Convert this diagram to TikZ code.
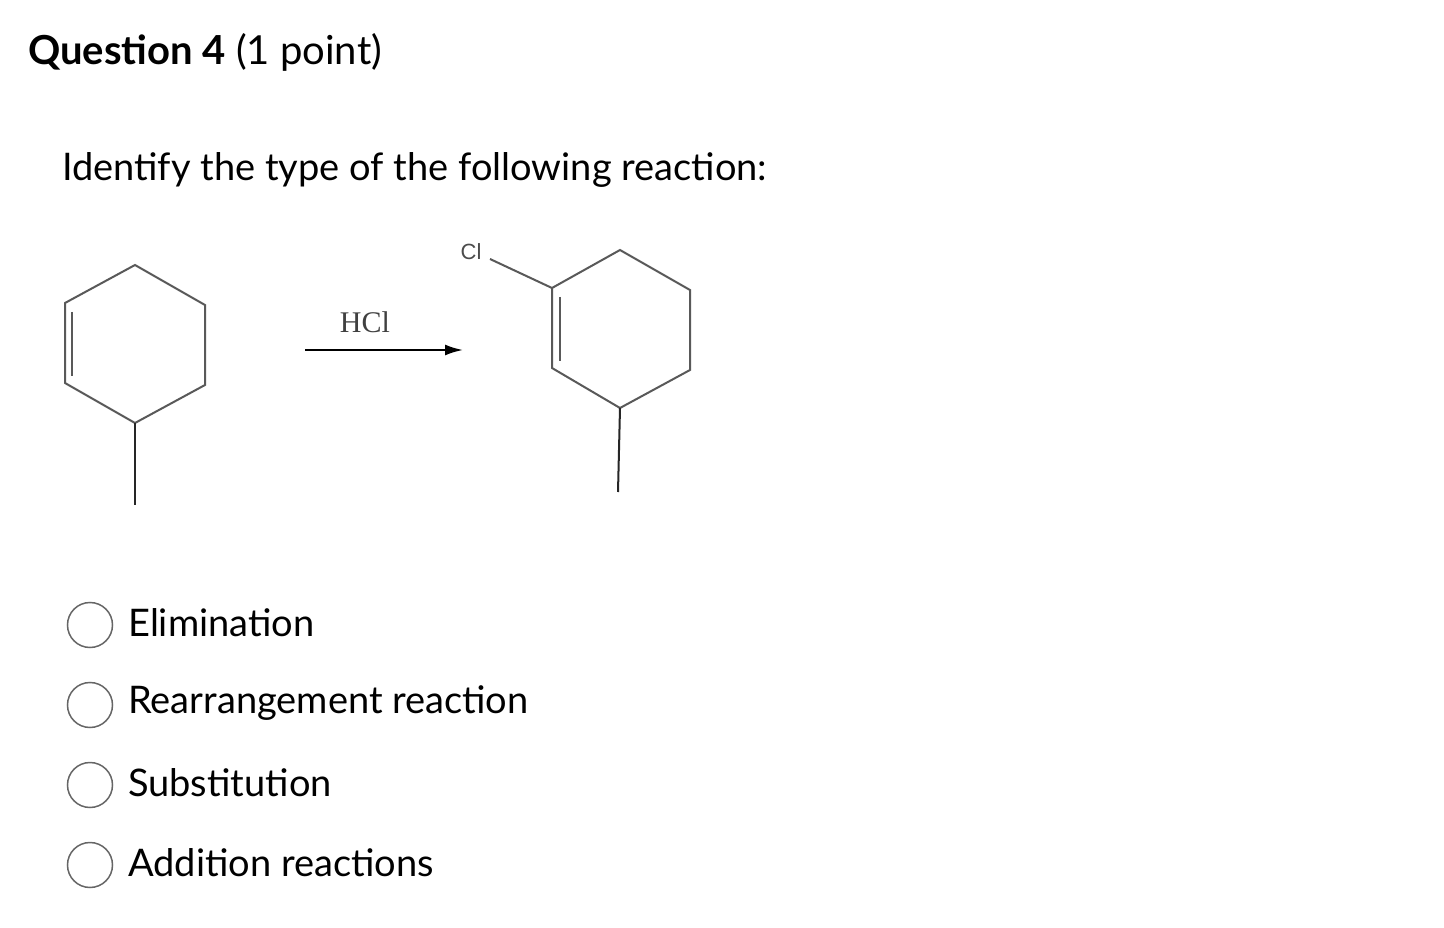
\documentclass[tikz,border=0pt]{standalone}
\usepackage{fontspec}
\usetikzlibrary{arrows.meta}
\setmainfont{Lato}
\newfontfamily\serifchem{Liberation Serif}
\newfontfamily\sanschem{Liberation Sans}
\begin{document}
\begin{tikzpicture}[x=1pt,y=-1pt,
  bond/.style={draw=black!65, line width=2pt, line join=miter},
  txt/.style={anchor=west, inner sep=0pt, font=\fontsize{38}{40}\selectfont},
  radio/.style={draw=black!60, line width=1.5pt}]
\useasboundingbox (0,0) rectangle (1444,928);
\node[txt, font=\fontsize{40}{42}\selectfont] (q) at (28,52) {\textbf{Question 4} (1 point)};
\node[txt] (id) at (62,170) {Identify the type of the following reaction:};
% left molecule
\coordinate (a1) at (135,265); \coordinate (a2) at (205,305); \coordinate (a3) at (205,385);
\coordinate (a4) at (135,423); \coordinate (a5) at (65,383); \coordinate (a6) at (65,303);
\coordinate (am) at (135,505);
\draw[bond] (a1)--(a2)--(a3)--(a4)--(a5)--(a6)--cycle;
\draw[bond] (72,312)--(72,376);
\draw[bond, draw=black!85] (a4)--(am);
% arrow
\coordinate (s) at (305,350); \coordinate (e) at (463,350);
\draw[line width=2.2pt, -{Latex[length=18pt,width=11pt]}] (s)--(e);
\node[font=\serifchem\fontsize{30}{32}\selectfont, text=black!75] (hcl) at (365,322) {HCl};
% right molecule
\coordinate (b1) at (620,250); \coordinate (b2) at (690,290); \coordinate (b3) at (690,370);
\coordinate (b4) at (620,408); \coordinate (b5) at (552,368); \coordinate (b6) at (552,288);
\coordinate (bm) at (618,492);
\draw[bond] (b1)--(b2)--(b3)--(b4)--(b5)--(b6)--cycle;
\draw[bond] (560,297)--(560,361);
\draw[bond, draw=black!85] (b4)--(bm);
\node[font=\sanschem\fontsize{22}{24}\selectfont, text=black!70, inner sep=1pt] (cl) at (471,252) {Cl};
\draw[bond] (490,259)--(b6);
% options
\foreach \i/\t in {0/Elimination,1/Rearrangement reaction,2/Substitution,3/Addition reactions}{
  \node[radio, circle, minimum size=45pt, inner sep=0pt] (r\i) at (90,625+80*\i) {};
  \node[txt] (o\i) at (128,623+80*\i) {\t};
}
\end{tikzpicture}
\end{document}
